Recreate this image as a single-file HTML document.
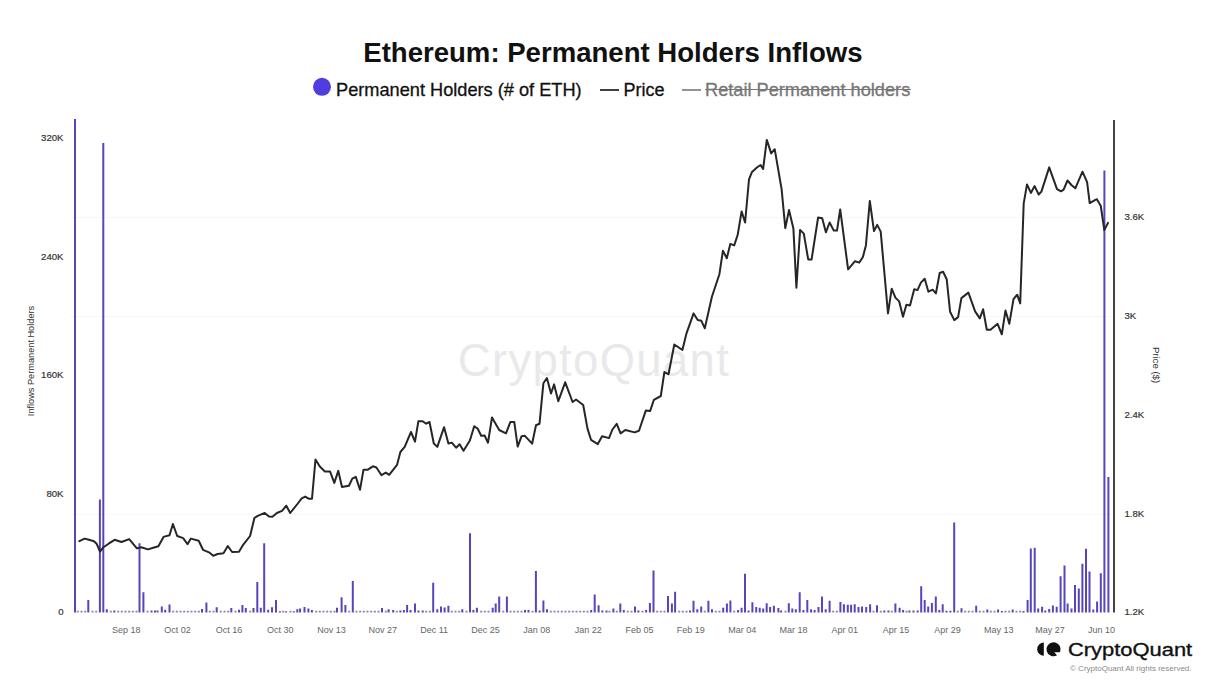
<!DOCTYPE html>
<html><head><meta charset="utf-8">
<style>
html,body{margin:0;padding:0;background:#fff;}
body{width:1224px;height:689px;overflow:hidden;position:relative;font-family:"Liberation Sans",sans-serif;}
.ax{font-family:"Liberation Sans",sans-serif;font-size:9.6px;fill:#333;stroke:#333;stroke-width:0.2px;}
.xl{font-family:"Liberation Sans",sans-serif;font-size:9px;fill:#666;}
</style></head><body>
<svg width="1224" height="689" viewBox="0 0 1224 689" style="position:absolute;left:0;top:0">
<rect width="1224" height="689" fill="#ffffff"/>
<text x="612.9" y="61.8" text-anchor="middle" font-family="Liberation Sans" font-weight="bold" font-size="27.57" fill="#111">Ethereum: Permanent Holders Inflows</text>
<circle cx="322" cy="86.8" r="9" fill="#4f3de0"/>
<text x="336" y="95.5" font-family="Liberation Sans" font-size="18.2" fill="#111" stroke="#111" stroke-width="0.3">Permanent Holders (# of ETH)</text>
<line x1="600" y1="90" x2="619" y2="90" stroke="#111" stroke-width="1.6"/>
<text x="623.6" y="95.5" font-family="Liberation Sans" font-size="18" fill="#111" stroke="#111" stroke-width="0.3">Price</text>
<line x1="682" y1="90" x2="701" y2="90" stroke="#777" stroke-width="1.6"/>
<text x="705" y="95.5" font-family="Liberation Sans" font-size="18.2" fill="#777" stroke="#777" stroke-width="0.3">Retail Permanent holders</text>
<line x1="705" y1="89.5" x2="911" y2="89.5" stroke="#777" stroke-width="1.2"/>
<line x1="70" y1="217.5" x2="1113" y2="217.5" stroke="#f6f6f6" stroke-width="1"/><line x1="70" y1="316.5" x2="1113" y2="316.5" stroke="#f6f6f6" stroke-width="1"/><line x1="70" y1="514" x2="1113" y2="514" stroke="#f6f6f6" stroke-width="1"/>
<text x="594" y="376.2" text-anchor="middle" font-family="Liberation Sans" font-size="45.5" fill="#e9e9eb" letter-spacing="1.3">CryptoQuant</text>
<path d="M76.8 610.8h2V612.5h-2Z M80.5 610.8h2V612.5h-2Z M84.2 610.8h2V612.5h-2Z M91.5 610.8h2V612.5h-2Z M95.2 610.8h2V612.5h-2Z M109.8 610.8h2V612.5h-2Z M117.2 610.8h2V612.5h-2Z M120.8 610.8h2V612.5h-2Z M124.5 610.8h2V612.5h-2Z M128.2 610.8h2V612.5h-2Z M131.8 610.8h2V612.5h-2Z M135.5 610.8h2V612.5h-2Z M146.5 610.8h2V612.5h-2Z M172.2 610.8h2V612.5h-2Z M175.8 610.8h2V612.5h-2Z M179.5 610.8h2V612.5h-2Z M183.2 610.8h2V612.5h-2Z M186.8 610.8h2V612.5h-2Z M190.5 610.8h2V612.5h-2Z M194.2 610.8h2V612.5h-2Z M197.8 610.8h2V612.5h-2Z M208.8 610.8h2V612.5h-2Z M212.5 610.8h2V612.5h-2Z M219.8 610.8h2V612.5h-2Z M223.5 610.8h2V612.5h-2Z M227.2 610.8h2V612.5h-2Z M234.5 610.8h2V612.5h-2Z M249.2 610.8h2V612.5h-2Z M282.2 610.8h2V612.5h-2Z M289.5 610.8h2V612.5h-2Z M315.2 610.8h2V612.5h-2Z M318.8 610.8h2V612.5h-2Z M322.5 610.8h2V612.5h-2Z M326.2 610.8h2V612.5h-2Z M329.8 610.8h2V612.5h-2Z M333.5 610.8h2V612.5h-2Z M348.2 610.8h2V612.5h-2Z M355.5 610.8h2V612.5h-2Z M359.2 610.8h2V612.5h-2Z M362.8 610.8h2V612.5h-2Z M366.5 610.8h2V612.5h-2Z M370.2 610.8h2V612.5h-2Z M373.8 610.8h2V612.5h-2Z M377.5 610.8h2V612.5h-2Z M384.8 610.8h2V612.5h-2Z M395.8 610.8h2V612.5h-2Z M425.2 610.8h2V612.5h-2Z M428.8 610.8h2V612.5h-2Z M450.8 610.8h2V612.5h-2Z M454.5 610.8h2V612.5h-2Z M458.2 610.8h2V612.5h-2Z M465.5 610.8h2V612.5h-2Z M480.2 610.8h2V612.5h-2Z M483.8 610.8h2V612.5h-2Z M487.5 610.8h2V612.5h-2Z M502.2 610.8h2V612.5h-2Z M509.5 610.8h2V612.5h-2Z M513.2 610.8h2V612.5h-2Z M516.8 610.8h2V612.5h-2Z M520.5 610.8h2V612.5h-2Z M531.5 610.8h2V612.5h-2Z M549.8 610.8h2V612.5h-2Z M553.5 610.8h2V612.5h-2Z M557.2 610.8h2V612.5h-2Z M560.8 610.8h2V612.5h-2Z M564.5 610.8h2V612.5h-2Z M568.2 610.8h2V612.5h-2Z M571.8 610.8h2V612.5h-2Z M575.5 610.8h2V612.5h-2Z M579.2 610.8h2V612.5h-2Z M582.8 610.8h2V612.5h-2Z M586.5 610.8h2V612.5h-2Z M608.5 610.8h2V612.5h-2Z M615.8 610.8h2V612.5h-2Z M626.8 610.8h2V612.5h-2Z M630.5 610.8h2V612.5h-2Z M641.5 610.8h2V612.5h-2Z M656.2 610.8h2V612.5h-2Z M659.8 610.8h2V612.5h-2Z M663.5 610.8h2V612.5h-2Z M678.2 610.8h2V612.5h-2Z M681.8 610.8h2V612.5h-2Z M685.5 610.8h2V612.5h-2Z M703.8 610.8h2V612.5h-2Z M714.8 610.8h2V612.5h-2Z M718.5 610.8h2V612.5h-2Z M733.2 610.8h2V612.5h-2Z M784.5 610.8h2V612.5h-2Z M832.2 610.8h2V612.5h-2Z M835.8 610.8h2V612.5h-2Z M872.5 610.8h2V612.5h-2Z M879.8 610.8h2V612.5h-2Z M890.8 610.8h2V612.5h-2Z M905.5 610.8h2V612.5h-2Z M956.8 610.8h2V612.5h-2Z M964.2 610.8h2V612.5h-2Z M967.8 610.8h2V612.5h-2Z M971.5 610.8h2V612.5h-2Z M978.8 610.8h2V612.5h-2Z M982.5 610.8h2V612.5h-2Z M989.8 610.8h2V612.5h-2Z M993.5 610.8h2V612.5h-2Z M1004.5 610.8h2V612.5h-2Z M1008.2 610.8h2V612.5h-2Z M1015.5 610.8h2V612.5h-2Z M1019.2 610.8h2V612.5h-2Z" fill="#8780bd"/>
<path d="M74 119h2V612.5h-2Z M87.3 600h2V612.5h-2Z M98.9 499.5h2V612.5h-2Z M102.3 143h2V612.5h-2Z M105.8 609.2h2V612.5h-2Z M113.3 610.5h2V612.5h-2Z M138.5 543.2h2V612.5h-2Z M142.4 592.3h2V612.5h-2Z M150.5 610.6h2V612.5h-2Z M154 610.6h2V612.5h-2Z M156.5 610.6h2V612.5h-2Z M160.8 606.4h2V612.5h-2Z M164.2 609.8h2V612.5h-2Z M168.5 604.6h2V612.5h-2Z M201 609h2V612.5h-2Z M205.4 602.6h2V612.5h-2Z M215.7 607.2h2V612.5h-2Z M230.3 608h2V612.5h-2Z M238 609.8h2V612.5h-2Z M241.4 605h2V612.5h-2Z M244.8 608h2V612.5h-2Z M252.5 608h2V612.5h-2Z M256.3 582h2V612.5h-2Z M259.8 607.7h2V612.5h-2Z M263.2 543.2h2V612.5h-2Z M267.2 609.8h2V612.5h-2Z M271 607.2h2V612.5h-2Z M275 600h2V612.5h-2Z M278.9 611.3h2V612.5h-2Z M285.1 611.3h2V612.5h-2Z M292.8 611.3h2V612.5h-2Z M296.3 609.2h2V612.5h-2Z M299.1 608.5h2V612.5h-2Z M303.5 607.1h2V612.5h-2Z M307.4 608.5h2V612.5h-2Z M310.9 609.9h2V612.5h-2Z M336 607.8h2V612.5h-2Z M340.6 597.3h2V612.5h-2Z M344.4 605h2V612.5h-2Z M351.8 581h2V612.5h-2Z M381 608h2V612.5h-2Z M387.6 609.2h2V612.5h-2Z M392.2 609.9h2V612.5h-2Z M399.4 610.6h2V612.5h-2Z M402.9 609.9h2V612.5h-2Z M406.1 605h2V612.5h-2Z M409.5 609.9h2V612.5h-2Z M414 603.6h2V612.5h-2Z M417.5 610.6h2V612.5h-2Z M421.7 610.6h2V612.5h-2Z M432.2 582.7h2V612.5h-2Z M436.3 609.2h2V612.5h-2Z M440 606.6h2V612.5h-2Z M443.6 607.6h2V612.5h-2Z M447.4 605.7h2V612.5h-2Z M461.3 609.2h2V612.5h-2Z M469 533.2h2V612.5h-2Z M472.4 609.9h2V612.5h-2Z M475.9 607.8h2V612.5h-2Z M491.7 607.8h2V612.5h-2Z M494.7 603.6h2V612.5h-2Z M498.2 596.6h2V612.5h-2Z M505.9 596.6h2V612.5h-2Z M524 609.9h2V612.5h-2Z M527.5 609.9h2V612.5h-2Z M534.9 570.9h2V612.5h-2Z M538.6 610.6h2V612.5h-2Z M542.4 600.5h2V612.5h-2Z M546 609.2h2V612.5h-2Z M590.2 609.9h2V612.5h-2Z M593.7 594.6h2V612.5h-2Z M597.6 605.3h2V612.5h-2Z M601.3 610.6h2V612.5h-2Z M605.5 610.6h2V612.5h-2Z M612.4 608.5h2V612.5h-2Z M619.3 603.6h2V612.5h-2Z M622.8 609.9h2V612.5h-2Z M634 606.4h2V612.5h-2Z M637.4 610.6h2V612.5h-2Z M645.1 609.9h2V612.5h-2Z M648.9 602.9h2V612.5h-2Z M652.5 570.4h2V612.5h-2Z M667 596h2V612.5h-2Z M670.9 603.6h2V612.5h-2Z M674.1 591.8h2V612.5h-2Z M689 610.6h2V612.5h-2Z M692.5 600.8h2V612.5h-2Z M696.3 609.2h2V612.5h-2Z M700.2 606.4h2V612.5h-2Z M707.4 600.8h2V612.5h-2Z M711 609.2h2V612.5h-2Z M722.2 607.8h2V612.5h-2Z M725.9 603.6h2V612.5h-2Z M729.4 600.5h2V612.5h-2Z M737.1 609.9h2V612.5h-2Z M740.6 607.8h2V612.5h-2Z M744 573.7h2V612.5h-2Z M747.5 610.6h2V612.5h-2Z M751.4 602.2h2V612.5h-2Z M755.2 607.1h2V612.5h-2Z M758.7 607.8h2V612.5h-2Z M762.2 608.5h2V612.5h-2Z M765.7 603.3h2V612.5h-2Z M769.1 607.1h2V612.5h-2Z M772.9 605.7h2V612.5h-2Z M777.4 608h2V612.5h-2Z M780.1 610.5h2V612.5h-2Z M787.8 603.3h2V612.5h-2Z M791.3 608.5h2V612.5h-2Z M794.8 609.2h2V612.5h-2Z M798.7 592.2h2V612.5h-2Z M802.4 609.9h2V612.5h-2Z M806.3 600.1h2V612.5h-2Z M810.1 609.2h2V612.5h-2Z M813.6 609.9h2V612.5h-2Z M817.5 607.1h2V612.5h-2Z M821 596.4h2V612.5h-2Z M824.7 609.2h2V612.5h-2Z M828.6 600.8h2V612.5h-2Z M839.4 601.9h2V612.5h-2Z M842.9 604.3h2V612.5h-2Z M846.8 604.7h2V612.5h-2Z M850.1 604.7h2V612.5h-2Z M853.7 604.3h2V612.5h-2Z M857.5 607.1h2V612.5h-2Z M861 606.4h2V612.5h-2Z M865.2 607.1h2V612.5h-2Z M869.1 604.3h2V612.5h-2Z M876 605.3h2V612.5h-2Z M883.3 610.5h2V612.5h-2Z M887.4 610.5h2V612.5h-2Z M894.4 603.6h2V612.5h-2Z M898.6 607.8h2V612.5h-2Z M902.1 609.9h2V612.5h-2Z M908.4 610.6h2V612.5h-2Z M912.5 610.6h2V612.5h-2Z M916.7 610.6h2V612.5h-2Z M920.2 586.2h2V612.5h-2Z M923.7 600.1h2V612.5h-2Z M927.2 606.4h2V612.5h-2Z M930.9 602.9h2V612.5h-2Z M934.8 596.4h2V612.5h-2Z M938.3 610h2V612.5h-2Z M941.7 604.2h2V612.5h-2Z M945.5 610.8h2V612.5h-2Z M949.4 610.8h2V612.5h-2Z M953.2 522.6h2V612.5h-2Z M960.5 608.2h2V612.5h-2Z M975.2 605.7h2V612.5h-2Z M986.3 609.5h2V612.5h-2Z M997.1 609.5h2V612.5h-2Z M1000.9 611h2V612.5h-2Z M1011.7 609.5h2V612.5h-2Z M1022.5 610.9h2V612.5h-2Z M1026.6 600h2V612.5h-2Z M1029.8 548.5h2V612.5h-2Z M1033.7 547.7h2V612.5h-2Z M1037.2 608.5h2V612.5h-2Z M1041.1 606.8h2V612.5h-2Z M1044.3 610.5h2V612.5h-2Z M1048.2 609.1h2V612.5h-2Z M1051.9 605.4h2V612.5h-2Z M1055.7 606.8h2V612.5h-2Z M1059.6 576.2h2V612.5h-2Z M1063.5 565.4h2V612.5h-2Z M1066.6 603.5h2V612.5h-2Z M1070.5 608.5h2V612.5h-2Z M1074 585h2V612.5h-2Z M1077.8 588.5h2V612.5h-2Z M1081.4 563.7h2V612.5h-2Z M1085 548.7h2V612.5h-2Z M1088.5 571.4h2V612.5h-2Z M1092.3 609.4h2V612.5h-2Z M1096.1 601.5h2V612.5h-2Z M1099.8 573.2h2V612.5h-2Z M1103.4 170.4h2V612.5h-2Z M1107.4 477h2V612.5h-2Z" fill="#5546bc"/>
<polyline points="79.4,541.2 84.6,538.6 88.9,539.8 94,541.2 96.6,543.7 100,551.5 103.5,547.2 108.6,543.7 114.6,539.8 121.5,542 129.2,539.1 136.9,548.4 141.2,547.2 148,549.4 153.2,547.7 158.4,546.3 163.5,536.9 169.5,535.2 172.9,524 177.2,536 183.2,538.1 187.5,544.3 190.9,538.6 198.7,540.8 203,549.8 209,552.3 213.2,555.8 217.5,554 223.5,553.2 227.8,546 232.1,552 239,551.8 243.3,544.6 250.1,536 254.4,518 257.8,515.8 264.7,512.9 269,516.6 272.4,516.8 276.9,513 282,510.9 286.3,505.7 290.2,513 297.4,504 301.7,498.3 305.2,496.6 308.6,498.7 312,498.7 315.5,459.4 319.8,466.6 324.9,471.4 330,471.4 334.3,482.9 338.3,470.9 342,486.9 348.9,485.8 352.3,478.6 355.8,476.9 360,489.8 363.5,469.7 367.8,469.7 372.9,466.3 376.4,467.5 381.5,475.2 385.8,472.6 389.2,474.8 397,464.9 400.4,452 404.7,446.9 411,432 415,441.7 418.4,421.2 422.7,421.2 426.1,423.7 429.5,422 433.8,443.5 437.3,446.9 444.1,427.2 448.4,443.5 451.8,442.6 456.1,447.7 459.6,444.3 463.5,450.8 469.9,440.5 474.2,426.3 477.6,428.5 481.2,435.8 484.6,435.5 488,442.7 492,417.5 499.2,430 506,433.4 510.3,422.1 514.3,422.1 517.7,446.6 521.5,436.3 524.9,435.8 532.1,443.7 536,425.2 539.5,423.8 543.4,383.2 546.9,378 551,393.5 554.1,384.4 558.3,401.2 565.2,382.3 572.6,402 576,399.5 583.2,405 587.5,428.6 591,439.8 597.8,444.1 602.1,436.3 609,438.1 612.4,429.5 616.7,423.8 620.6,433.4 625.3,430 634.7,432.4 639,430.7 645.8,410.6 650.1,411.1 653.9,399.8 660.8,396 664.4,372 668.5,374.3 674.3,344.5 682.4,350 686.5,333.3 693.6,313.4 697.7,320.1 701.3,320.7 704.8,328.3 711.9,296.7 719.4,274.2 722.9,250.8 726.8,258.2 730.3,243.9 734.2,245.4 737.7,234.8 741.6,211.4 745.1,222.5 749,179.3 752,171.9 756.9,167.5 760.6,165 763.1,169 766.8,139.9 771.2,153.4 774.7,149.2 781.6,189.2 785.3,228.1 789,210.1 793.4,228.6 796.4,287.8 800.1,229.9 803.8,233.6 808.2,259.4 811.6,259.4 818.1,217.5 822.2,218.3 825.9,232.3 829.6,222.5 833.8,230.6 837,230.6 840.2,209.4 848.1,269.3 855,261.2 859.2,262.6 862.9,257 865.9,245.4 869.8,201 874,231.1 877.2,224.9 880.7,231.6 888,313.4 891.7,288.7 895.4,297.6 899.2,301.4 903,316.8 906.4,304.8 910,305.4 914.2,289.2 917.5,290.1 920.9,282.6 924.7,278.7 928.4,291.7 932.6,289.7 935.9,293.4 939.7,273 943.1,271.7 946.7,279.2 950.1,311.8 954.3,320.1 958.1,317.1 961.4,298.1 968.4,292.6 975.1,311.4 979.8,318.4 983.1,309.3 986.8,329.8 990.5,329.8 997.6,323.8 1001.8,334.3 1005.5,310.4 1009.3,323.8 1013.5,299.2 1017.2,294.7 1020.2,303.4 1023.7,203.3 1027,184.4 1030.9,192.9 1034.6,186.1 1038.7,194.5 1041.4,191.6 1049.2,167.4 1057,189.2 1061,191.3 1063.6,189.6 1067.5,180.5 1071.4,185 1075.3,188.3 1082.5,171.7 1087.1,182.2 1089.7,203.1 1094.9,200.1 1096.9,199.2 1100.8,206 1104.3,230.1 1108,222.9" fill="none" stroke="#262626" stroke-width="2" stroke-linejoin="round" stroke-linecap="round"/>
<line x1="1114" y1="120" x2="1114" y2="612.5" stroke="#444" stroke-width="2"/>
<text x="63.5" y="141.4" text-anchor="end" class="ax">320K</text><text x="63.5" y="259.9" text-anchor="end" class="ax">240K</text><text x="63.5" y="378.4" text-anchor="end" class="ax">160K</text><text x="63.5" y="496.9" text-anchor="end" class="ax">80K</text><text x="63.5" y="615.4" text-anchor="end" class="ax">0</text><text x="1124.5" y="219.6" class="ax">3.6K</text><text x="1124.5" y="318.6" class="ax">3K</text><text x="1124.5" y="417.6" class="ax">2.4K</text><text x="1124.5" y="516.6" class="ax">1.8K</text><text x="1124.5" y="615.1" class="ax">1.2K</text><text x="126.2" y="633.2" text-anchor="middle" class="xl">Sep 18</text><text x="177.5" y="633.2" text-anchor="middle" class="xl">Oct 02</text><text x="228.9" y="633.2" text-anchor="middle" class="xl">Oct 16</text><text x="280.2" y="633.2" text-anchor="middle" class="xl">Oct 30</text><text x="331.5" y="633.2" text-anchor="middle" class="xl">Nov 13</text><text x="382.8" y="633.2" text-anchor="middle" class="xl">Nov 27</text><text x="434.2" y="633.2" text-anchor="middle" class="xl">Dec 11</text><text x="485.5" y="633.2" text-anchor="middle" class="xl">Dec 25</text><text x="536.8" y="633.2" text-anchor="middle" class="xl">Jan 08</text><text x="588.2" y="633.2" text-anchor="middle" class="xl">Jan 22</text><text x="639.5" y="633.2" text-anchor="middle" class="xl">Feb 05</text><text x="690.8" y="633.2" text-anchor="middle" class="xl">Feb 19</text><text x="742.2" y="633.2" text-anchor="middle" class="xl">Mar 04</text><text x="793.5" y="633.2" text-anchor="middle" class="xl">Mar 18</text><text x="844.8" y="633.2" text-anchor="middle" class="xl">Apr 01</text><text x="896.1" y="633.2" text-anchor="middle" class="xl">Apr 15</text><text x="947.5" y="633.2" text-anchor="middle" class="xl">Apr 29</text><text x="998.8" y="633.2" text-anchor="middle" class="xl">May 13</text><text x="1050.1" y="633.2" text-anchor="middle" class="xl">May 27</text><text x="1101.5" y="633.2" text-anchor="middle" class="xl">Jun 10</text>
<text transform="translate(34 361) rotate(-90)" text-anchor="middle" font-family="Liberation Sans" font-size="9.2" fill="#333">Inflows Permanent Holders</text>
<text transform="translate(1152.5 365) rotate(90)" text-anchor="middle" font-family="Liberation Sans" font-size="9.6" fill="#333">Price ($)</text>
<g transform="translate(0 0)">
<path d="M1043.8 642.6 A6.6 6.6 0 0 0 1043.8 655.8 Z" fill="#111"/>
<path d="M1053.5 642.3 A7 7 0 1 0 1057.04 655.34 L1054.2 652.2 L1059.79 652.37 A7 7 0 0 0 1053.5 642.3 Z" fill="#111"/>
</g>
<text x="1068" y="655.7" font-family="Liberation Sans" font-size="18.5" fill="#111" stroke="#111" stroke-width="0.35" transform="translate(1068 0) scale(1.185 1) translate(-1068 0)">CryptoQuant</text>
<text x="1070" y="671.2" font-family="Liberation Sans" font-size="8" fill="#8a8a8a">© CryptoQuant All rights reserved.</text>
</svg>
</body></html>
